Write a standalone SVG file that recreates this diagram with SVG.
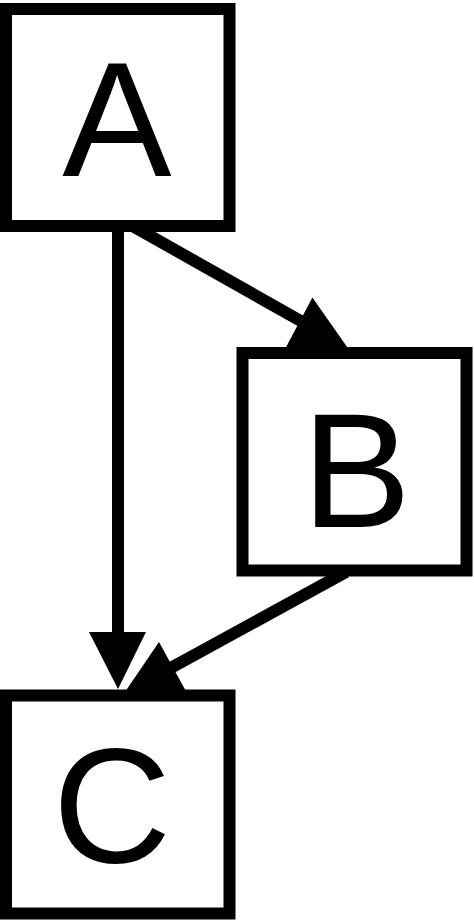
<svg xmlns="http://www.w3.org/2000/svg" width="474" height="923" viewBox="0 0 474 923">
<style>
.node rect{fill:#fff;stroke:#000;stroke-width:12}
.node text{font-family:"Liberation Sans",Arial,sans-serif;font-size:164px;fill:#000;text-anchor:middle}
.edge line{stroke:#000;stroke-width:12}
.edge polygon{fill:#000;stroke:none}
</style>
<rect width="474" height="923" fill="#fff"/>
<g id="connectors">
<g class="edge" id="A-C">
<line x1="118" y1="222" x2="118" y2="636"/>
<polygon points="89,632 146,632 118,689"/>
</g>
<g class="edge" id="A-B">
<line x1="122" y1="220" x2="305" y2="323.4"/>
<polygon points="312.4,297.5 285.6,347.9 348.5,349"/>
</g>
<g class="edge" id="B-C">
<line x1="346" y1="572" x2="167" y2="670"/>
<polygon points="159,642 186.4,692 123.6,694"/>
</g>
</g>
<g class="node" id="A">
<rect x="6" y="9" width="223.5" height="217"/>
<text x="117" y="176">A</text>
</g>
<g class="node" id="B">
<rect x="242.5" y="353" width="224" height="217.5"/>
<text x="356.5" y="527">B</text>
</g>
<g class="node" id="C">
<rect x="6" y="695.5" width="223.5" height="218"/>
<text x="112" y="862">C</text>
</g>
</svg>
